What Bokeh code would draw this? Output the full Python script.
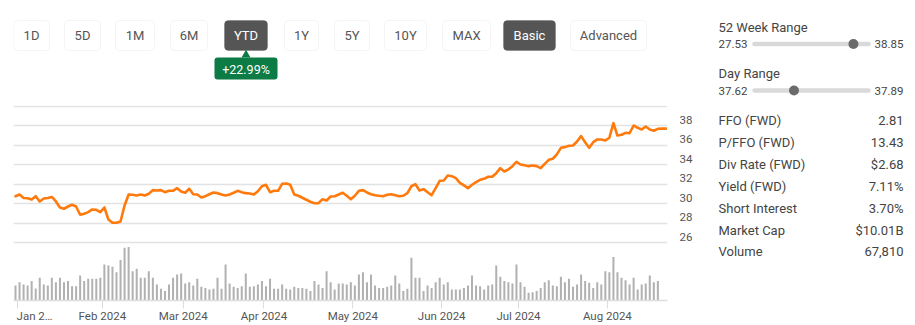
import pandas as pd
from bokeh.plotting import figure
from bokeh.models import (Range1d, FixedTicker, Grid, LinearAxis,
                          ColumnDataSource, BoxAnnotation)
from bokeh.layouts import row, column
from bokeh.core.properties import value
from bokeh.embed import file_html
from bokeh.resources import INLINE

FONT = value("Roboto")

# ---------------- data ----------------
price = [
    30.78, 30.95, 30.60, 30.57, 30.44, 30.78, 30.24, 30.54, 30.60, 30.70,
    30.24, 29.62, 29.49, 29.72, 29.90, 29.72, 28.87, 28.97, 29.14, 29.42,
    29.38, 29.14, 29.62, 28.39, 28.05, 28.05, 28.18, 29.82, 30.95, 30.92,
    30.85, 30.95, 30.85, 31.03, 31.40, 31.36, 31.40, 31.19, 31.33, 31.33,
    31.60, 31.26, 31.13, 31.54, 30.98, 30.95, 30.65, 30.78, 30.98, 31.16,
    31.09, 30.95, 30.85, 30.95, 31.13, 31.33,
    31.19, 31.09, 31.06, 30.95, 31.29, 31.80, 31.95, 31.19, 31.33, 31.33,
    32.05, 32.08, 31.95, 30.95, 30.82, 30.62, 30.41, 30.21, 30.06, 30.06,
    30.47, 30.34, 30.75, 30.78, 30.95, 31.13, 30.82, 30.47, 30.82, 31.33,
    31.40, 31.16, 30.98, 30.88, 30.82, 30.78, 30.92, 30.98, 30.88, 30.78,
    30.82, 31.09, 31.80, 32.01, 31.36, 31.50, 31.19, 30.88, 31.60, 32.36,
    32.39, 32.90, 32.83,
    32.63, 32.15, 31.88, 31.60, 31.95, 32.22, 32.46, 32.56, 32.77, 32.77,
    33.14, 33.65, 33.31, 33.52, 33.86, 34.31, 34.03, 33.96, 33.86, 33.93,
    33.86, 33.65, 34.10, 34.51, 34.62, 35.06, 35.74, 35.81, 35.95, 35.98,
    36.39, 36.94, 36.32, 35.74, 36.32, 36.60, 36.60, 36.50, 36.77, 38.27,
    37.00, 37.08, 37.28, 37.24, 38.03, 37.79, 37.62, 37.93, 37.62, 37.49,
    37.69, 37.72, 37.71,
]

volume_k = [
    53, 64, 56, 53, 68, 42, 80, 56, 53, 80,
    64, 80, 64, 68, 50, 50, 88, 68, 76, 76,
    76, 80, 126, 123, 118, 99, 142, 185, 188, 103,
    111, 80, 80, 103, 80, 56, 41, 33, 56, 80,
    91, 95, 60, 64, 53, 76, 48, 44, 39, 41,
    80, 41, 126, 60, 48, 44, 50, 95, 48, 50,
    56, 68, 50, 76, 41, 41, 56, 41, 39, 48,
    44, 44, 41, 33, 68, 56, 44, 103, 64, 39,
    60, 60, 56, 64,
    53, 91, 99, 64, 91, 53, 44, 44, 48, 53,
    88, 60, 33, 41, 150, 80, 80, 33, 53, 44,
    64, 80, 56, 64, 39, 39, 39, 44, 53, 88,
    53, 50, 39, 53, 56, 123, 83, 68, 64, 60,
    126, 64, 48, 27, 29, 33, 44, 64, 71, 53,
    50, 83, 64, 76, 48, 56, 91, 68, 62, 44,
    64, 56, 103, 99, 153, 99, 80, 71, 56, 80,
    39, 56, 60, 88, 64, 68,
]

market_holidays = ["2024-01-15", "2024-02-19", "2024-03-29",
                   "2024-05-27", "2024-06-19", "2024-07-04"]
price_ticks = [26, 28, 30, 32, 34, 36, 38]
grid_ticks = [26, 28, 30, 32, 34, 36, 38, 40]
first_month_label = "Jan 2…"

buttons = ["1D", "5D", "1M", "6M", "YTD", "1Y", "5Y", "10Y", "MAX", "Basic", "Advanced"]
active_buttons = ["YTD", "Basic"]
ytd_change = "+22.99%"

week52_low, week52_high = 27.53, 38.85
day_low, day_high = 37.62, 37.89
stat_labels = ["FFO (FWD)", "P/FFO (FWD)", "Div Rate (FWD)", "Yield (FWD)",
               "Short Interest", "Market Cap", "Volume"]
stat_values = ["2.81", "13.43", "$2.68", "7.11%", "3.70%", "$10.01B", "67,810"]

# ---------------- layout constants ----------------
btn_left = [13, 64, 115, 170, 224, 284, 334, 384, 442, 503, 570]
btn_right = [49, 100, 154, 207, 267, 318, 369, 426, 490, 555, 646]
BTN_TOP, BTN_BOTTOM = 20, 50
TEXT_DARK = "#444444"
AXIS_TEXT = "#555555"
GRID = "#e2e2e2"
FRAME_L, FRAME_R = 13, 667          # chart frame, page pixels
LABEL_LIFT = 0.6                    # price labels sit just above their grid line
PX = 4.04                           # pixels per trading day
FIRST_LABEL_HALF_PX = 17            # truncated first label starts at its tick

# ---------------- derived ----------------
n = len(price)
idx = list(range(n))
dates = pd.bdate_range("2024-01-02", periods=n, freq="C", holidays=market_holidays)
month_idx = [i for i in idx if i == 0 or dates[i].month != dates[i - 1].month]
tick_pos = [i + 0.5 for i in month_idx]                 # month boundaries (tick marks)
tick_txt = [dates[i].strftime("%b %Y") for i in month_idx]
tick_txt[0] = first_month_label
label_pos = list(tick_pos)
label_pos[0] = tick_pos[0] + FIRST_LABEL_HALF_PX / PX   # left-aligned look for first label
overrides = {p: t for p, t in zip(label_pos, tick_txt)}

# ---------------- top bar (range buttons) ----------------
# frame of this figure is aligned with the chart frame below it (13..667 px)
top = figure(width=700, height=105, x_range=Range1d(FRAME_L, FRAME_R), y_range=Range1d(105, 0),
             output_backend="svg", toolbar_location=None,
             x_axis_location=None, y_axis_location=None,
             min_border_left=0, min_border_right=0, min_border_top=0, min_border_bottom=0,
             outline_line_color=None)
top.grid.visible = False

for name, l, r in zip(buttons, btn_left, btn_right):
    act = name in active_buttons
    top.add_layout(BoxAnnotation(left=l, right=r, top=BTN_TOP, bottom=BTN_BOTTOM,
                                 fill_color="#555555" if act else "white", fill_alpha=1,
                                 line_color="#555555" if act else "#dadada", line_width=1,
                                 border_radius=4, level="underlay"))
btn_src = ColumnDataSource(dict(
    x=[(l + r) / 2 for l, r in zip(btn_left, btn_right)],
    y=[(BTN_TOP + BTN_BOTTOM) / 2] * len(buttons),
    t=buttons,
    c=["white" if b in active_buttons else "#555555" for b in buttons],
))
top.text(x="x", y="y", text="t", text_color="c", source=btn_src, text_font=FONT,
         text_font_size="13px", text_align="center", text_baseline="middle")

ytd_i = buttons.index("YTD")
bx = (btn_left[ytd_i] + btn_right[ytd_i]) / 2
top.add_layout(BoxAnnotation(left=bx - 31.5, right=bx + 31.5, top=57, bottom=79,
                             fill_color="#0c7b44", fill_alpha=1, line_color=None,
                             border_radius=3, level="underlay"))
top.scatter(x=[bx], y=[54.5], marker="triangle", size=9, fill_color="#0c7b44", line_color=None)
top.text(x=[bx], y=[68.5], text=[ytd_change], text_color="white", text_font=FONT,
         text_font_size="12.5px", text_align="center", text_baseline="middle")

# ---------------- price + volume chart ----------------
x_start = -2 / PX
x_end = x_start + (FRAME_R - FRAME_L) / PX
chart = figure(width=700, height=220, x_range=Range1d(x_start, x_end),
               y_range=Range1d(20.08, 40.08),
               output_backend="svg", toolbar_location=None, y_axis_location=None,
               min_border_left=FRAME_L, min_border_right=700 - FRAME_R,
               min_border_top=0, min_border_bottom=25,
               outline_line_color=None)
chart.xgrid.visible = False
chart.ygrid.visible = False
chart.add_layout(Grid(dimension=1, ticker=FixedTicker(ticks=grid_ticks),
                      grid_line_color=GRID, grid_line_width=1.5))

chart.extra_y_ranges = {"vol": Range1d(0, 684)}
chart.vbar(x=idx[:len(volume_k)], top=volume_k, width=0.5, y_range_name="vol",
           fill_color="#b1b1b1", line_color=None)
chart.line(idx, price, line_color="#ff7a0c", line_width=2.6,
           line_join="round", line_cap="round")

ax = chart.xaxis[0]
# month boundaries are drawn as (minor) tick marks, labels sit on the major ticks
ax.ticker = FixedTicker(ticks=label_pos, minor_ticks=tick_pos)
ax.major_label_overrides = overrides
ax.axis_line_color = "#dddddd"
ax.axis_line_width = 1.5
ax.major_tick_line_color = None
ax.major_tick_in = 0
ax.major_tick_out = 8
ax.minor_tick_line_color = "#dddddd"
ax.minor_tick_line_width = 1
ax.minor_tick_in = 0
ax.minor_tick_out = 8
ax.major_label_standoff = 0
ax.major_label_text_font = "Roboto"
ax.major_label_text_font_size = "11.5px"
ax.major_label_text_color = AXIS_TEXT

label_ticks = [round(v + LABEL_LIFT, 2) for v in price_ticks]
yax = LinearAxis(ticker=FixedTicker(ticks=label_ticks),
                 major_label_overrides={t: str(v) for t, v in zip(label_ticks, price_ticks)})
yax.axis_line_color = None
yax.major_tick_line_color = None
yax.minor_tick_line_color = None
yax.major_tick_out = 0
yax.major_tick_in = 0
yax.major_label_standoff = 12
yax.major_label_text_font = "Roboto"
yax.major_label_text_font_size = "11.5px"
yax.major_label_text_color = AXIS_TEXT
chart.add_layout(yax, "right")

# ---------------- right stats panel ----------------
side = figure(width=215, height=325, x_range=Range1d(700, 915), y_range=Range1d(325, 0),
              output_backend="svg", toolbar_location=None,
              x_axis_location=None, y_axis_location=None,
              min_border_left=0, min_border_right=0, min_border_top=0, min_border_bottom=0,
              outline_line_color=None)
side.grid.visible = False

LX, RX = 718, 903
TRACK_L, TRACK_R, KNOB_R = 754, 868, 4.5
last_price = price[-1]


def range_block(title, y_title, y_row, lo, hi):
    side.text(x=[LX], y=[y_title], text=[title], text_font=FONT, text_font_size="13px",
              text_color=TEXT_DARK, text_align="left", text_baseline="middle")
    side.text(x=[LX], y=[y_row], text=[f"{lo:.2f}"], text_font=FONT, text_font_size="11.5px",
              text_color=TEXT_DARK, text_align="left", text_baseline="middle")
    side.text(x=[RX], y=[y_row], text=[f"{hi:.2f}"], text_font=FONT, text_font_size="11.5px",
              text_color=TEXT_DARK, text_align="right", text_baseline="middle")
    side.segment(x0=[TRACK_L], y0=[y_row], x1=[TRACK_R], y1=[y_row], line_color="#d9d9d9",
                 line_width=4.5, line_cap="round")
    frac = min(max((last_price - lo) / (hi - lo), 0), 1)
    kx = TRACK_L + KNOB_R + frac * (TRACK_R - TRACK_L - 2 * KNOB_R)
    side.scatter(x=[kx], y=[y_row], size=10, fill_color="#6b6b6b", line_color=None)


range_block("52 Week Range", 27, 43.5, week52_low, week52_high)
range_block("Day Range", 73, 90, day_low, day_high)

row_y = [120 + 21.9 * k for k in range(len(stat_labels))]
stat_src = ColumnDataSource(dict(y=row_y, l=stat_labels, v=stat_values,
                                 xl=[LX] * len(row_y), xr=[RX] * len(row_y)))
side.text(x="xl", y="y", text="l", source=stat_src, text_font=FONT, text_font_size="13px",
          text_color=TEXT_DARK, text_align="left", text_baseline="middle")
side.text(x="xr", y="y", text="v", source=stat_src, text_font=FONT, text_font_size="13px",
          text_color=TEXT_DARK, text_align="right", text_baseline="middle")

layout = row(column(top, chart), side)
open("out.html", "w").write(file_html(layout, INLINE))
